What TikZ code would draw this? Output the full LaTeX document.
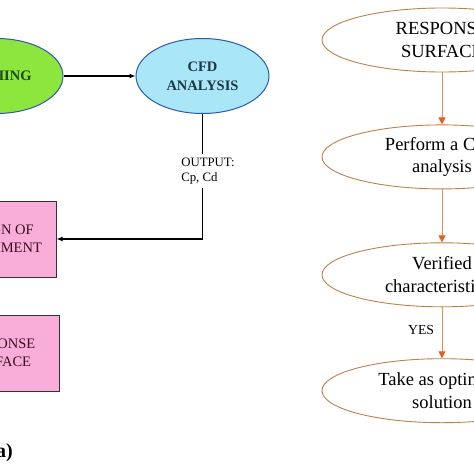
\documentclass[tikz,border=0pt]{standalone}
\usepackage{fontspec}
\setmainfont{Liberation Serif}
\usetikzlibrary{arrows.meta, positioning, shapes.geometric}
\definecolor{meshgreen}{HTML}{8CE63E}
\definecolor{darkgreen}{HTML}{1C4A12}
\definecolor{cfdblue}{HTML}{A8E6F8}
\definecolor{blueline}{HTML}{2E58AE}
\definecolor{slate}{HTML}{1E3644}
\definecolor{pinkfill}{HTML}{F8AED8}
\definecolor{boxline}{HTML}{333333}
\definecolor{maroon}{HTML}{3A0E1E}
\definecolor{ovalline}{HTML}{C08048}
\definecolor{arrowline}{HTML}{E08C58}
\definecolor{arrowtip}{HTML}{E85E18}

\begin{document}
\begin{tikzpicture}[
    x=1pt, y=-1pt,
    font=\fontsize{18.5}{22.5}\selectfont,
    oval/.style={ellipse, draw=blueline, line width=1pt, minimum width=133pt, minimum height=75pt, inner sep=0pt, align=center, font=\fontsize{14.5}{19}\selectfont\bfseries},
    pbox/.style={draw=boxline, fill=pinkfill, line width=1pt, minimum width=120pt, minimum height=76pt, align=center, text=maroon, font=\fontsize{14.5}{18}\selectfont},
    rov/.style={ellipse, draw=ovalline, fill=white, line width=0.9pt, minimum width=240pt, minimum height=64pt, inner sep=0pt, align=center},
    ar/.style={-{Latex[length=6pt,width=5pt]}, black, line width=1.3pt},
    oar/.style={-{Triangle[length=7pt,width=7pt,color=arrowtip]}, arrowline, line width=1pt}
  ]
    \useasboundingbox (0,0) rectangle (474,474);
    \clip (0,0) rectangle (474,474);
    \node[oval, fill=meshgreen, text=darkgreen] (mesh) at (-3.5,76) {MESHING};
    \node[oval, fill=cfdblue, text=slate, right=72pt of mesh] (cfd) {CFD\\ANALYSIS};
    \node[font=\fontsize{12.8}{15}\selectfont, align=left, inner sep=4pt] (out) at (208,171) {OUTPUT:\\Cp, Cd};
    \node[pbox] (doe) at (-4,239) {DESIGN OF\\EXPERIMENT};
    \node[pbox] (rsm) at (-1,353) {RESPONSE\\SURFACE};
    \node[font=\fontsize{20}{24}\selectfont\bfseries, anchor=east, inner sep=0pt] (lab) at (13,453) {(a)};
    \node[rov] (r1) at (442,40) {RESPONSE\\SURFACE};
    \node[rov, below=52pt of r1] (r2) {Perform a CFD\\analysis};
    \node[rov, below=53pt of r2] (r3) {Verified\\characteristics?};
    \node[rov, below=51pt of r3] (r4) {Take as optimum\\solution};
    \draw[ar] (mesh) -- (cfd);
    \draw[line width=1.3pt] (cfd.south) -- (cfd.south |- out.north);
    \draw[ar] (cfd.south |- out.south) |- (doe.east);
    \draw[oar] (r1) -- (r2);
    \draw[oar] (r2) -- (r3);
    \draw[oar] (r3) -- node[left, xshift=-4pt, yshift=3pt, text=black, font=\fontsize{13.8}{16}\selectfont] {YES} (r4);
  \end{tikzpicture}
\end{document}
